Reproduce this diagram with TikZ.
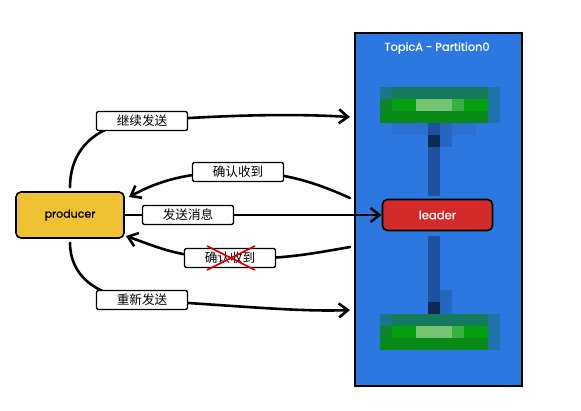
\documentclass[tikz,border=0pt]{standalone}
\usepackage{fontspec}
\setmainfont{Poppins}
\newfontfamily\pop{Poppins}[FakeBold=0.5]
\newfontfamily\cjk{Noto Sans CJK SC}
\usetikzlibrary{arrows.meta}
\definecolor{partblue}{HTML}{2C78E0}
\definecolor{prodyellow}{HTML}{F0C132}
\definecolor{leadred}{HTML}{D32A2A}
\definecolor{gA}{HTML}{157A5C}
\definecolor{gB}{HTML}{04A012}
\definecolor{gC}{HTML}{088A18}
\definecolor{gL}{HTML}{74C474}
\definecolor{gM}{HTML}{3AB040}
\definecolor{gT}{HTML}{1E74A8}
\definecolor{cnA}{HTML}{1E50A0}
\definecolor{cnD}{HTML}{0F2A50}
\definecolor{cnS}{HTML}{2566C0}
\tikzset{
  conn/.style={line width=2.6pt, line cap=round},
  tip/.style={-{Straight Barb[length=9pt,width=14pt,line width=2.6pt]}},
  lbl/.style={draw, line width=1.3pt, fill=white, rounded corners=2pt, minimum width=91pt, minimum height=19pt, inner sep=0pt, font=\cjk\fontsize{12.6}{13}\selectfont},
  boxnode/.style={draw, line width=1.6pt, rounded corners=5pt, inner sep=0pt},
}
\begin{document}
\begin{tikzpicture}[x=1pt,y=-1pt]
\useasboundingbox (0,0) rectangle (581,410);
% partition container
\node[draw, line width=1.6pt, fill=partblue, minimum width=167pt, minimum height=353pt, inner sep=0pt, anchor=north west] (part) at (354,32) {};
\node[text=white, font=\pop\fontsize{11.4}{12}\selectfont] (ptitle) at (437,48) {TopicA - Partition0};
% follower 1 (pixelated)
\node[minimum width=120pt, minimum height=36pt, inner sep=0pt, anchor=north west] (f1) at (380,87) {};
\fill[partblue!93!black] (392,123) rectangle (476,135);
\fill[gA] (380,87) rectangle (488,99);
\fill[gT!60!gA] (380,87) rectangle (392,99);
\fill[gB] (380,99) rectangle (488,111);
\fill[gC!80!gA] (380,99) rectangle (392,111);
\fill[gL] (416,99) rectangle (452,111);
\fill[gM] (452,99) rectangle (464,111);
\fill[gC] (380,111) rectangle (488,123);
\fill[gT] (488,87) rectangle (500,123);
\fill[cnS] (440,123) rectangle (452,147);
\fill[cnA] (428,123) rectangle (440,196);
\fill[cnD] (428,135) rectangle (440,147);
% follower 2 (pixelated)
\node[minimum width=120pt, minimum height=36pt, inner sep=0pt, anchor=north west] (f2) at (380,314) {};
\fill[cnS] (440,290) rectangle (452,314);
\fill[cnA] (428,236) rectangle (440,314);
\fill[cnD] (428,302) rectangle (440,314);
\fill[gA] (380,314) rectangle (488,326);
\fill[gT!60!gA] (380,314) rectangle (392,326);
\fill[gB] (380,326) rectangle (488,338);
\fill[gC!80!gA] (380,326) rectangle (392,338);
\fill[gL] (416,326) rectangle (452,338);
\fill[gM] (452,326) rectangle (464,338);
\fill[gC] (380,338) rectangle (488,350);
\fill[gT] (488,314) rectangle (500,350);
% main nodes
\node[boxnode, fill=leadred, text=white, minimum width=110pt, minimum height=31pt, font=\pop\fontsize{11.6}{12}\selectfont] (leader) at (437.5,215) {leader};
\node[boxnode, fill=prodyellow, minimum width=108pt, minimum height=46pt, font=\pop\fontsize{11}{12}\selectfont] (producer) at (70,215) {producer};
% label positions
\coordinate (c1) at (142,121);
\coordinate (c2) at (238,172);
\coordinate (c3) at (188,215);
\coordinate (c4) at (230,258);
\coordinate (c5) at (142,300);
\coordinate (t1) at (350,117);
\coordinate (s2) at (350,198);
\coordinate (t2) at (129,197);
\coordinate (s4) at (350,247);
\coordinate (t4) at (126,236);
\coordinate (t5) at (350,310);
% connectors
\draw[conn] (producer.north) ++(0,-4) .. controls (70,150) and (95,124) .. (c1);
\draw[conn, tip] (c1) .. controls (240,114) and (300,114) .. (t1);
\draw[conn] (s2) .. controls (310,180) and (280,172) .. (c2);
\draw[conn, tip] (c2) .. controls (190,172) and (160,180) .. (t2);
\draw[conn, tip] (producer.east) -- (leader.west);
\draw[conn] (s4) .. controls (310,254) and (280,260) .. (c4);
\draw[conn, tip] (c4) .. controls (180,258) and (160,248) .. (t4);
\draw[conn] (producer.south) ++(0,4) .. controls (70,275) and (95,297) .. (c5);
\draw[conn, tip] (c5) .. controls (240,306) and (300,312) .. (t5);
% labels
\node[lbl] (l1) at (c1) {继续发送};
\node[lbl] (l2) at (c2) {确认收到};
\node[lbl] (l3) at (c3) {发送消息};
\node[lbl] (l4) at (c4) {确认收到};
\node[lbl] (l5) at (c5) {重新发送};
% red cross
\draw[red!85!black, line width=1.6pt] (207,246) -- (255,270) (207,270) -- (255,246);
\end{tikzpicture}
\end{document}
